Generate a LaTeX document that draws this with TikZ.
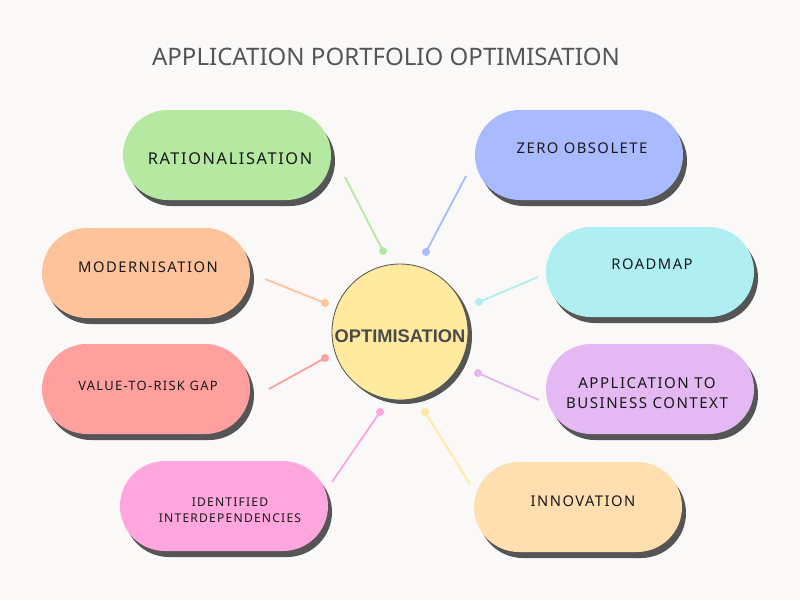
\documentclass[tikz,border=0pt]{standalone}
\usepackage{fontspec}
\setmainfont{Noto Sans}
\newfontfamily\pillfont[LetterSpace=10]{Noto Sans}
\newfontfamily\hubfont{Liberation Sans}
\usetikzlibrary{calc}
\definecolor{bgcol}{HTML}{FAF9F8}
\definecolor{shadowgray}{HTML}{555555}
\definecolor{titlegray}{HTML}{555555}
\definecolor{hubgray}{HTML}{4A4A4A}
\definecolor{ratcol}{HTML}{B5E8A0}
\definecolor{zercol}{HTML}{AABAFF}
\definecolor{modcol}{HTML}{FFC39B}
\definecolor{roacol}{HTML}{B0EFF1}
\definecolor{valcol}{HTML}{FFA09F}
\definecolor{appcol}{HTML}{E4B8F3}
\definecolor{idecol}{HTML}{FFA6DF}
\definecolor{inncol}{HTML}{FFDFB0}
\definecolor{hubcol}{HTML}{FFEA9F}
% pill: top left corner (x,y) and colour
\def\pill(#1,#2)#3{\fill[color=shadowgray, rounded corners=1.125cm] (#1+4,#2+6) rectangle (#1+212,#2+96); \fill[color=#3, rounded corners=1.125cm] (#1,#2) rectangle (#1+208,#2+90);}

\begin{document}
\begin{tikzpicture}[x=0.025cm, y=-0.025cm,
	label/.style={color=black!90, font=\pillfont\fontsize{10.5}{15}\selectfont, align=center, inner sep=0pt},
	dot/.style={circle, inner sep=0pt, minimum size=8*0.025cm},
	spoke/.style={line width=1.3pt}]
	%%%%% START %%%%%
	
	\useasboundingbox (0,0) rectangle (800,600);
	\fill[color=bgcol] (0,0) rectangle (800,600);
	
	\node[color=titlegray, font=\fontsize{17.1}{20}\selectfont, inner sep=0pt] (title) at (386,57) {APPLICATION PORTFOLIO OPTIMISATION};
	
	\pill(123,110){ratcol}
	\pill(475,110){zercol}
	\pill(42,228){modcol}
	\pill(546,227){roacol}
	\pill(42,344){valcol}
	\pill(546,344){appcol}
	\pill(120,461){idecol}
	\pill(474,462){inncol}
	
	\node[label, font=\pillfont\fontsize{11.6}{15}\selectfont] (rat) at (230,159) {RATIONALISATION};
	\node[label] (zer) at (582,148) {ZERO OBSOLETE};
	\node[label] (mod) at (148,267) {MODERNISATION};
	\node[label] (roa) at (652,264) {ROADMAP};
	\node[label, font=\pillfont\fontsize{9.2}{15}\selectfont] (val) at (148,386) {VALUE-TO-RISK GAP};
	\node[label, font=\pillfont\fontsize{10.7}{14.2}\selectfont] (app) at (647,393) {APPLICATION TO\\BUSINESS CONTEXT};
	\node[label, font=\pillfont\fontsize{8.6}{11}\selectfont] (ide) at (230,510) {IDENTIFIED\\INTERDEPENDENCIES};
	\node[label] (inn) at (583,501) {INNOVATION};
	
	\fill[color=shadowgray] (404,336) circle (68*0.025cm);
	\draw[fill=hubcol, draw=shadowgray, line width=0.6pt] (400,332) circle (68*0.025cm);
	\node[color=hubgray, font=\hubfont\bfseries\fontsize{13}{16}\selectfont, inner sep=0pt] (hub) at (400,336) {OPTIMISATION};
	
	\coordinate (ratS) at (345,177);
	\coordinate (zerS) at (466,176);
	\coordinate (modS) at (265,279);
	\coordinate (roaS) at (538,277);
	\coordinate (valS) at (269,389);
	\coordinate (appS) at (539,400);
	\coordinate (ideS) at (332,482);
	\coordinate (innS) at (470,484);
	
	\node[dot, fill=ratcol] (ratD) at (383,251) {};
	\node[dot, fill=zercol] (zerD) at (426,252) {};
	\node[dot, fill=modcol] (modD) at (325,303) {};
	\node[dot, fill=roacol] (roaD) at (479,302) {};
	\node[dot, fill=valcol] (valD) at (325,358) {};
	\node[dot, fill=appcol] (appD) at (478,373) {};
	\node[dot, fill=idecol] (ideD) at (380,412) {};
	\node[dot, fill=hubcol] (innD) at (425,412) {};
	
	\draw[spoke, color=ratcol] (ratS) -- (ratD.center);
	\draw[spoke, color=zercol] (zerS) -- (zerD.center);
	\draw[spoke, color=modcol] (modS) -- (modD.center);
	\draw[spoke, color=roacol] (roaS) -- (roaD.center);
	\draw[spoke, color=valcol] (valS) -- (valD.center);
	\draw[spoke, color=appcol] (appS) -- (appD.center);
	\draw[spoke, color=idecol] (ideS) -- (ideD.center);
	\draw[spoke, color=hubcol] (innS) -- (innD.center);
	
	%%%%% END %%%%%
\end{tikzpicture}
\end{document}
